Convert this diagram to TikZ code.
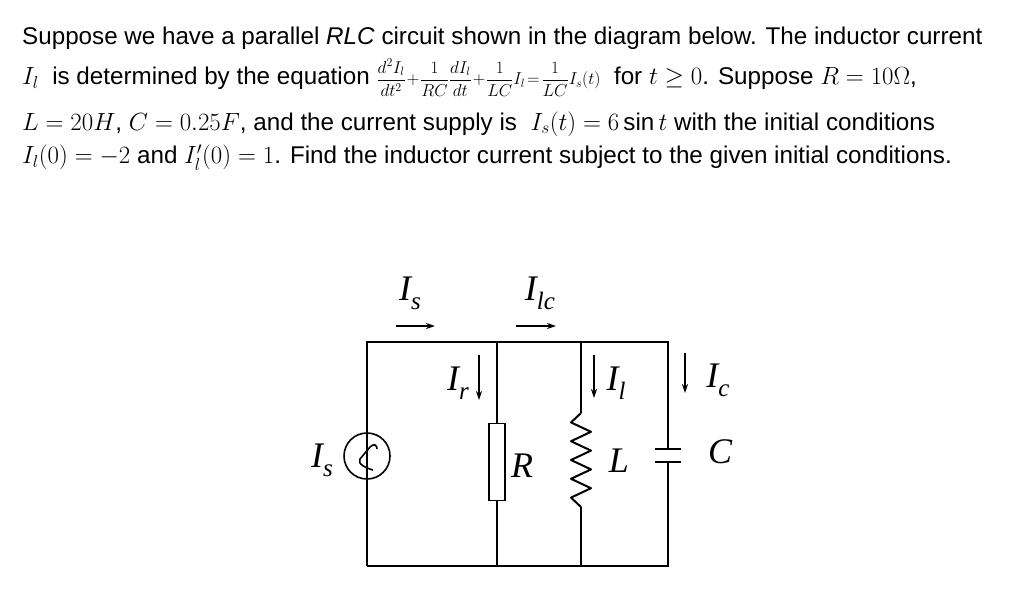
\documentclass[tikz,border=0pt]{standalone}
\usepackage{amsmath}
\usepackage{fontspec}
\setmainfont{Liberation Sans}
\newfontfamily\serif{Liberation Serif}
\usetikzlibrary{arrows.meta}
\newcommand{\lsub}[1]{\raisebox{-9pt}{\fontsize{25}{25}\selectfont #1}}
\begin{document}
\begin{tikzpicture}[x=1pt,y=-1pt,
  txt/.style={anchor=west,inner sep=0pt,font=\fontsize{24.2}{28}\selectfont},
  wire/.style={line width=2pt},
  lab/.style={font=\serif\itshape\fontsize{36}{36}\selectfont,inner sep=0pt},
  cur/.style={line width=1.6pt,-{Stealth[length=9pt,width=6pt]}}]
\useasboundingbox (0,0) rectangle (1024,590);
\node[txt] (l1) at (22,38) {Suppose we have a parallel \textit{RLC} circuit shown in the diagram below. The inductor current};
\node[txt] (l2) at (22,78) {$I_l$ \ is determined by the equation {\fontsize{18}{19}\selectfont$\displaystyle\frac{d^2I_l}{dt^2}\!+\!\frac{1}{RC}\frac{dI_l}{dt}\!+\!\frac{1}{LC}I_l\!=\!\frac{1}{LC}I_s(t)$} \ for $t\geq 0$. Suppose $R=10\Omega$,};
\node[txt] (l3) at (22,124) {$L=20H$, $C=0.25F$, and the current supply is \ $I_s(t)=6\sin t$ with the initial conditions};
\node[txt] (l4) at (22,158) {$I_l(0)=-2$ and $I_l'(0)=1$. Find the inductor current subject to the given initial conditions.};
\coordinate (tl) at (367,342); \coordinate (tr) at (668,342);
\coordinate (bl) at (367,566); \coordinate (br) at (668,566);
\coordinate (rt) at (497,342); \coordinate (rb) at (497,566);
\coordinate (lt) at (581,342); \coordinate (lb) at (581,566);
\node[draw,circle,line width=1.6pt,minimum size=46pt,inner sep=0pt] (src) at (367,456) {};
\node[draw,rectangle,line width=1.6pt,minimum width=16pt,minimum height=77pt,inner sep=0pt] (res) at (497,462) {};
\coordinate (i1) at (581,413); \coordinate (i2) at (581,507);
\coordinate (c1) at (668,449); \coordinate (c2) at (668,462);
\draw[wire] (bl) -- (tl) -- (tr) -- (c1);
\draw[wire] (c2) -- (br) -- (bl);
\draw[wire] (src.north) -- (tl); \draw[wire] (src.south) -- (bl);
\draw[wire] (rt) -- (res.north); \draw[wire] (res.south) -- (rb);
\draw[wire] (lt) -- (i1); \draw[wire] (i2) -- (lb);
\draw[wire,line join=round] (i1) -- ++(-10,9.4) -- ++(20,9.4) -- ++(-20,9.4) -- ++(20,9.4) -- ++(-20,9.4) -- ++(20,9.4) -- ++(-20,9.4) -- ++(20,9.4) -- ++(-20,9.4) -- (i2);
\draw[wire] (655,449) -- (681,449); \draw[wire] (655,462) -- (681,462);
\draw[line width=1.6pt] (373,470) .. controls (366,468) and (357,464) .. (360,459) -- (370,447) .. controls (374,443) and (377,445) .. (377,449);
\draw[cur] (396,326) -- (435,326); \draw[cur] (516,326) -- (556,326);
\draw[cur] (479,355) -- (479,400); \draw[cur] (594,355) -- (594,398); \draw[cur] (685,353) -- (685,393);
\node[lab] (la) at (410,293) {I\lsub{s}};
\node[lab] (lb2) at (540,293) {I\lsub{lc}};
\node[lab] (lc) at (458,383) {I\lsub{r}};
\node[lab] (ld) at (616,383) {I\lsub{l}};
\node[lab] (le) at (718,380) {I\lsub{c}};
\node[lab] (lf) at (322,460) {I\lsub{s}};
\node[lab] (lr) at (522,466) {R};
\node[lab] (ll) at (619,461) {L};
\node[lab] (lC) at (720,452) {C};
\end{tikzpicture}
\end{document}
